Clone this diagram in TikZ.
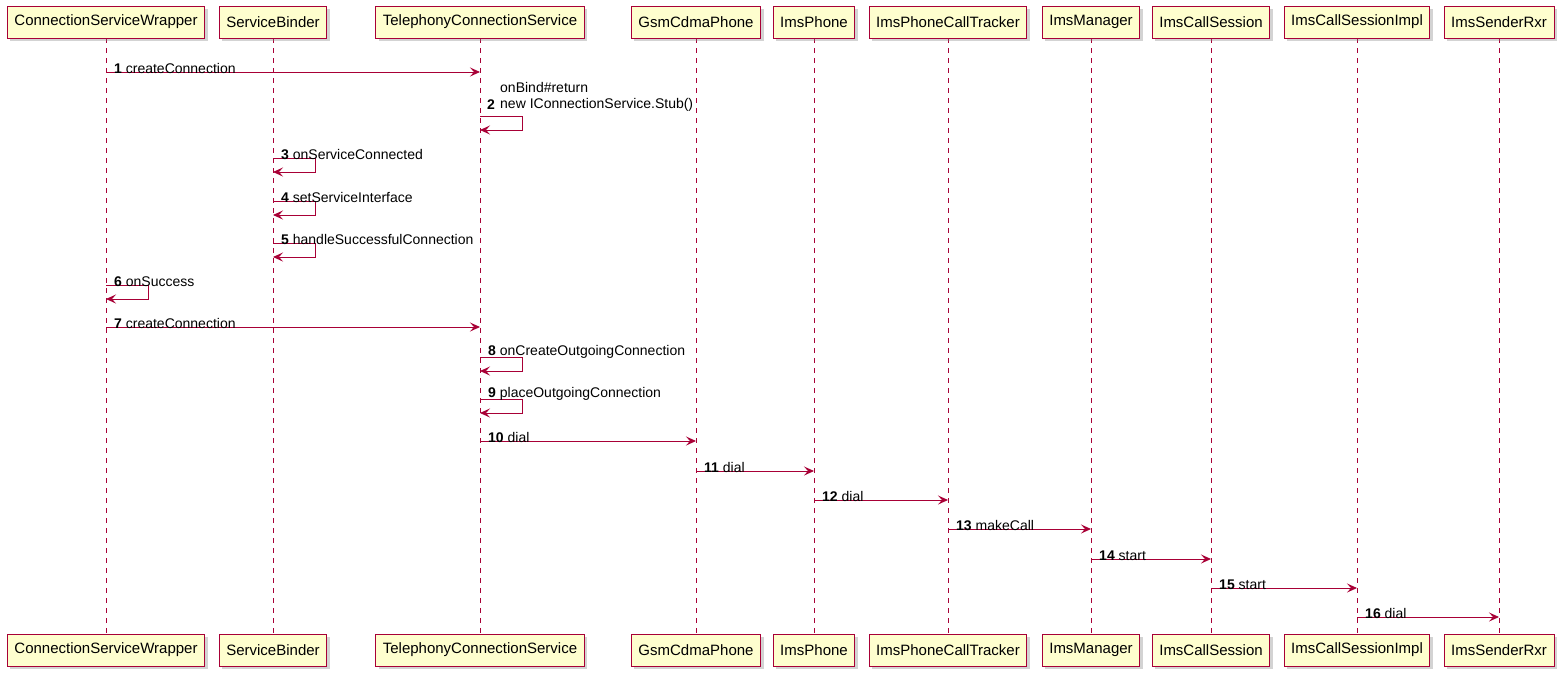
\documentclass[tikz,border=0pt]{standalone}
\usepackage{fontspec}
\setmainfont{Liberation Sans}
\usetikzlibrary{arrows.meta,shadows}
\definecolor{pu}{HTML}{A80036}
\definecolor{pfill}{HTML}{FEFECE}
\begin{document}
\begin{tikzpicture}[x=1pt,y=-1pt,
 part/.style={draw=pu,fill=pfill,line width=0.9pt,minimum height=32pt,inner xsep=7pt,font=\fontsize{15}{17}\selectfont,anchor=center,drop shadow={shadow xshift=3pt,shadow yshift=-3pt,opacity=0.35}},
 life/.style={draw=pu,dash pattern=on 5pt off 5pt,line width=0.8pt},
 msg/.style={draw=pu,line width=0.9pt,-{Stealth[length=10pt,width=9pt,inset=4pt]}},
 lbl/.style={font=\fontsize{14}{16}\selectfont,anchor=south west,inner sep=1pt,align=left}]
\useasboundingbox (0,0) rectangle (1565,678);
\foreach \n/\x/\t in {a/106/ConnectionServiceWrapper,b/273/ServiceBinder,c/480/TelephonyConnectionService,d/696/GsmCdmaPhone,e/814/ImsPhone,f/948/ImsPhoneCallTracker,g/1091/ImsManager,h/1211/ImsCallSession,i/1357/ImsCallSessionImpl,j/1499/ImsSenderRxr}{
  \draw[life] (\x,38) -- (\x,634);
  \node[part] (top\n) at (\x,22) {\t};
  \node[part] (bot\n) at (\x,650) {\t};
}
% messages between lifelines
\foreach \xs/\xt/\y/\k/\l in {106/480/72/1/createConnection,106/480/327/7/createConnection,480/696/441/10/dial,696/814/471/11/dial,814/948/500/12/dial,948/1091/529/13/makeCall,1091/1211/559/14/start,1211/1357/588/15/start,1357/1499/617/16/dial}{
  \coordinate (s) at (\xs,\y);
  \coordinate (t) at (\xt,\y);
  \draw[msg] (s) -- (t);
  \node[lbl] at ([xshift=7pt,yshift=-3pt]s) {\textbf{\k}\ \l};
}
% self messages
\foreach \xs/\y/\k/\l in {273/158/3/onServiceConnected,273/201/4/setServiceInterface,273/243/5/handleSuccessfulConnection,106/285/6/onSuccess,480/357/8/onCreateOutgoingConnection,480/399/9/placeOutgoingConnection}{
  \coordinate (s) at (\xs,\y);
  \draw[msg] (s) -- ++(42,0) -- ++(0,14) -- (\xs,\y+14);
  \node[lbl] at ([xshift=7pt,yshift=-3pt]s) {\textbf{\k}\ \l};
}
\coordinate (s2) at (480,116);
\draw[msg] (s2) -- ++(42,0) -- ++(0,14) -- (480,130);
\node[lbl,anchor=west] at (486,105) {\textbf{2}};
\node[lbl] at (499,113) {onBind\#return\\new IConnectionService.Stub()};
\end{tikzpicture}
\end{document}
